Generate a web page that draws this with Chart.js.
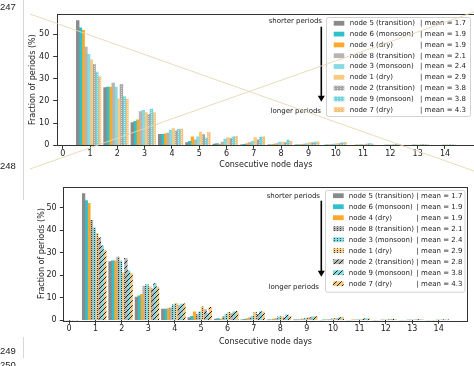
<!DOCTYPE html>
<html><head><meta charset="utf-8">
<script src="https://cdn.jsdelivr.net/npm/chart.js@4.4.0/dist/chart.umd.min.js"></script>
<style>
html,body{margin:0;padding:0;background:#fff;width:474px;height:366px;overflow:hidden;position:relative;}
canvas{position:absolute;left:0;}
#c1{top:0;}
#c2{top:178px;}
.ln{position:absolute;left:0;font-family:"Liberation Sans";font-size:9.5px;line-height:10px;color:#222;}
#ov{position:absolute;left:0;top:0;pointer-events:none;}
</style></head><body>
<canvas id="c1" width="480" height="175"></canvas>
<canvas id="c2" width="474" height="172"></canvas>
<div class="ln" style="top:1.5px">247</div>
<div class="ln" style="top:160.5px">248</div>
<div class="ln" style="top:346px">249</div>
<div class="ln" style="top:360px">250</div>
<svg id="ov" width="474" height="366">
<line x1="23.5" y1="0" x2="23.5" y2="200" stroke="#d8d8d8" stroke-width="1"/>
<line x1="23.5" y1="337" x2="23.5" y2="358" stroke="#d8d8d8" stroke-width="1"/>
<line x1="30" y1="14" x2="474" y2="171" stroke="#e6d6b4" stroke-width="0.9"/>
<line x1="30" y1="169" x2="474" y2="12" stroke="#e6d6b4" stroke-width="0.9"/>
</svg>
<script>
// ---------- data ----------
const days   = [0, 1, 2, 3, 4, 5, 6, 7, 8, 9, 10, 11, 12, 13, 14];
const yTicks = [0, 10, 20, 30, 40, 50];
const node5 = [0, 56.2, 26.0, 10.3, 5.0, 1.2, 0.5, 0.2, 0.1, 0.1, 0.0, 0.0, 0.0, 0.0, 0.0];
const node6 = [0, 53.0, 26.3, 10.8, 5.0, 1.8, 0.8, 0.4, 0.2, 0.1, 0.1, 0.0, 0.0, 0.0, 0.0];
const node4 = [0, 51.8, 26.3, 11.5, 5.2, 3.8, 0.5, 0.8, 0.5, 0.3, 0.2, 0.1, 0.0, 0.0, 0.0];
const node8 = [0, 44.3, 28.0, 15.2, 5.5, 2.5, 1.5, 1.2, 0.8, 0.5, 0.3, 0.2, 0.1, 0.1, 0.0];
const node3 = [0, 41.0, 26.2, 15.8, 6.8, 3.8, 2.8, 1.8, 1.5, 0.8, 0.5, 0.3, 0.2, 0.1, 0.1];
const node1 = [0, 38.5, 21.0, 14.8, 7.5, 6.0, 3.5, 3.5, 1.5, 1.2, 0.8, 0.3, 0.2, 0.2, 0.1];
const node2 = [0, 36.5, 27.5, 14.0, 6.5, 4.8, 3.0, 2.5, 1.2, 1.2, 0.8, 0.5, 0.3, 0.3, 0.2];
const node9 = [0, 33.0, 22.0, 16.3, 7.2, 3.2, 3.8, 3.7, 2.4, 1.5, 1.2, 0.8, 0.5, 0.3, 0.2];
const node7 = [0, 31.0, 20.8, 14.7, 7.3, 5.8, 4.0, 3.8, 1.8, 1.6, 1.3, 0.5, 0.4, 0.3, 0.2];
const seriesNames = ["node 5 (transition)", "node 6 (monsoon)", "node 4 (dry)",
                     "node 8 (transition)", "node 3 (monsoon)", "node 1 (dry)",
                     "node 2 (transition)", "node 9 (monsoon)", "node 7 (dry)"];
const meansTop    = [1.7, 1.9, 1.9, 2.1, 2.4, 2.9, 3.8, 3.8, 4.3];
const meansBottom = [1.7, 1.9, 1.9, 2.1, 2.4, 2.9, 2.8, 3.8, 4.3];
const xTitle = "Consecutive node days";
const yTitle = "Fraction of periods (%)";
const series = [node5, node6, node4, node8, node3, node1, node2, node9, node7];

// ---------- styles ----------
const FONT = "DejaVu Sans";
const TXT = "#222";
function pattern(ctx, w, h, bg, fg, fn) {
  const c = document.createElement('canvas'); c.width = w; c.height = h;
  const x = c.getContext('2d');
  x.fillStyle = bg; x.fillRect(0, 0, w, h);
  x.fillStyle = fg;
  for (let i = 0; i < w; i++) for (let j = 0; j < h; j++) if (fn(i, j)) x.fillRect(i, j, 1, 1);
  return ctx.createPattern(c, 'repeat');
}
const base  = ['#8a8a8a', '#2ec2cd', '#fba92a'];
const light = ['#b5b5b5', '#86dbe2', '#f9cb82'];
const third = ['#a5a5a5', '#70d3db', '#f6c27a'];

function topStyles(ctx) {
  const s = [...base, ...light];
  third.forEach(c => s.push(pattern(ctx, 3, 2, c, 'rgba(255,255,255,0.55)', (i, j) => i === 1 && j === 0)));
  return s;
}
function bottomStyles(ctx) {
  const s = [...base];
  light.forEach(c => s.push(pattern(ctx, 3, 2, c, '#3a3a3a', (i, j) => i === 1 && j === 0)));
  light.forEach(c => s.push(pattern(ctx, 5, 5, c, '#222', (i, j) => (i + j) % 5 === 4)));
  return s;
}

function makeDatasets(styles) {
  return series.map((vals, i) => ({
    label: seriesNames[i],
    data: days.map((d, k) => ({ x: d - 0.45 + 0.1 * i, y: vals[k] })),
    backgroundColor: styles[i],
    borderWidth: 0,
    barPercentage: 1,
    categoryPercentage: 1,
    grouped: false
  }));
}

const framePlugin = {
  id: 'frame',
  afterDraw(chart) {
    const { ctx, chartArea: a } = chart;
    ctx.save();
    ctx.strokeStyle = '#333'; ctx.lineWidth = 1;
    ctx.strokeRect(Math.round(a.left) + 0.5, Math.round(a.top) + 0.5,
                   Math.round(a.right - a.left), Math.round(a.bottom - a.top));
    ctx.restore();
  }
};

function legendPlugin(L) {
  return {
    id: 'customLegend',
    afterDraw(chart) {
      const ctx = chart.ctx;
      ctx.save();
      // box
      ctx.beginPath();
      const r = 2;
      ctx.roundRect ? ctx.roundRect(L.box[0] + 0.5, L.box[1] + 0.5, L.box[2], L.box[3], r)
                    : ctx.rect(L.box[0] + 0.5, L.box[1] + 0.5, L.box[2], L.box[3]);
      ctx.fillStyle = 'rgba(255,255,255,0.85)';
      ctx.fill();
      ctx.strokeStyle = '#d2d2d2'; ctx.lineWidth = 1; ctx.stroke();
      ctx.font = L.font + 'px "' + FONT + '"';
      ctx.textBaseline = 'middle';
      chart.data.datasets.forEach((ds, i) => {
        const y = L.row0 + L.step * i;
        ctx.fillStyle = ds.backgroundColor;
        ctx.fillRect(L.patchX, y - L.patchH / 2, L.patchW, L.patchH);
        ctx.fillStyle = TXT;
        ctx.textAlign = 'left';
        ctx.fillText(ds.label, L.textX, y);
        ctx.fillText('| mean = ' + L.means[i].toFixed(1), L.meanX, y);
      });
      // arrow annotation
      ctx.textAlign = 'right';
      ctx.fillText('shorter periods', L.labRight, L.shortY);
      ctx.fillText('longer periods', L.labRight - 1, L.longY);
      ctx.strokeStyle = '#000'; ctx.lineWidth = 1.6;
      ctx.beginPath(); ctx.moveTo(L.arrowX, L.arrowTop); ctx.lineTo(L.arrowX, L.arrowBot - 5); ctx.stroke();
      ctx.fillStyle = '#000';
      ctx.beginPath();
      ctx.moveTo(L.arrowX - 3.5, L.arrowBot - 6);
      ctx.lineTo(L.arrowX + 3.5, L.arrowBot - 6);
      ctx.lineTo(L.arrowX, L.arrowBot);
      ctx.closePath(); ctx.fill();
      ctx.restore();
    }
  };
}

function makeChart(id, styles, P, L) {
  const canvas = document.getElementById(id);
  const ctx = canvas.getContext('2d');
  return new Chart(ctx, {
    type: 'bar',
    data: { datasets: makeDatasets(styles(ctx)) },
    options: {
      responsive: false, animation: false, events: [],
      layout: { padding: { left: 0, top: P.top, right: P.right, bottom: 0 } },
      plugins: { legend: { display: false }, tooltip: { enabled: false } },
      scales: {
        x: {
          type: 'linear', min: -0.22, max: 15.1, offset: false,
          afterBuildTicks: s => { s.ticks = days.map(v => ({ value: v })); },
          afterFit: s => { s.height = P.xh; },
          ticks: { font: { family: FONT, size: 8 }, color: TXT, padding: 0.5, maxRotation: 0, autoSkip: false },
          grid: { display: true, offset: false, drawOnChartArea: false, drawTicks: true, tickLength: 3.5, color: '#333' },
          border: { display: false },
          title: { display: true, text: xTitle, font: { family: FONT, size: 8 }, color: TXT,
                   padding: { top: 0, bottom: P.xtb } }
        },
        y: {
          min: 0, max: 59.2,
          afterBuildTicks: s => { s.ticks = yTicks.map(v => ({ value: v })); },
          afterFit: s => { s.width = P.yw; },
          ticks: { font: { family: FONT, size: 8 }, color: TXT, padding: P.ytp },
          grid: { display: true, drawOnChartArea: false, drawTicks: true, tickLength: 3.5, color: '#333' },
          border: { display: false },
          title: { display: true, text: yTitle, font: { family: FONT, size: 8 }, color: TXT,
                   padding: { top: P.ytt, bottom: 0 } }
        }
      }
    },
    plugins: [framePlugin, legendPlugin(L)]
  });
}

makeChart('c1', topStyles,
  { top: 14, right: 5, xh: 29.7, xtb: 5.2, yw: 56.7, ytp: 3.9, ytt: 28.2 },
  { box: [326, 17, 144, 99], row0: 23.3, step: 10.8, patchX: 333.7, patchW: 10.6, patchH: 4.8,
    textX: 349.7, meanX: 420, means: meansTop, font: 7,
    labRight: 322, shortY: 20.7, longY: 111, arrowX: 321.3, arrowTop: 26.7, arrowBot: 101.7 });

makeChart('c2', bottomStyles,
  { top: 8.7, right: 6.3, xh: 29.7, xtb: 3.5, yw: 63.3, ytp: 3.1, ytt: 36.9 },
  { box: [325, 12, 139.5, 101.7], row0: 17.7, step: 11, patchX: 333, patchW: 10.7, patchH: 4.8,
    textX: 348.7, meanX: 416.5, means: meansBottom, font: 7,
    labRight: 320, shortY: 17.7, longY: 108.7, arrowX: 321.3, arrowTop: 22.7, arrowBot: 98.7 });
</script>
</body></html>
